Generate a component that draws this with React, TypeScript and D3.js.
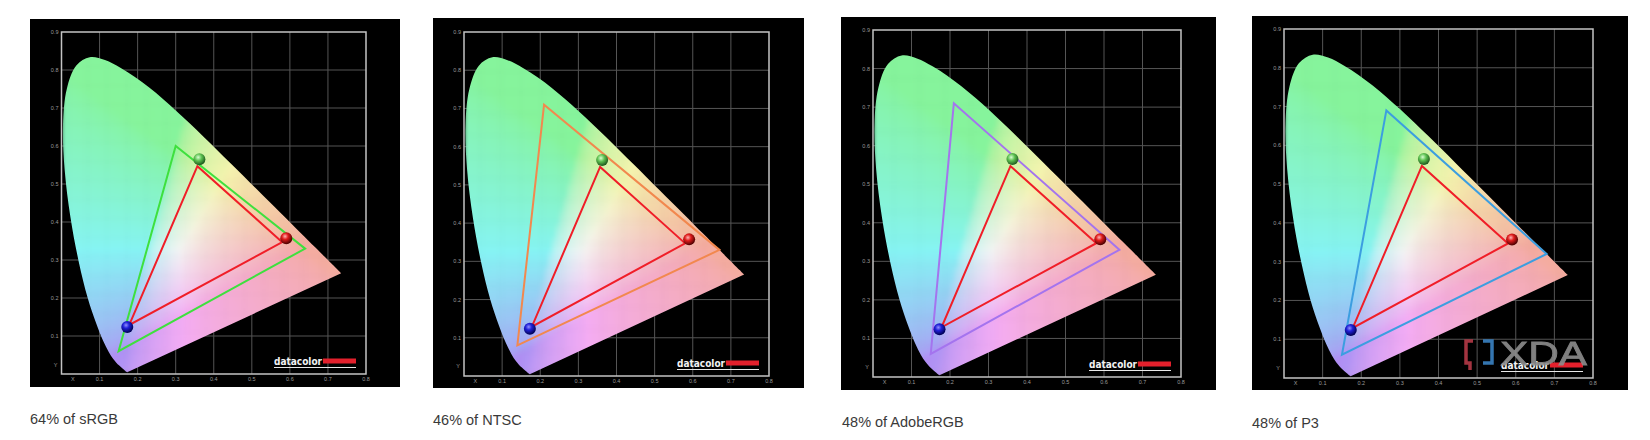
import React, { useMemo } from 'react';
import * as d3 from 'd3';

// CIE 1931 2° spectral locus (380–700 nm, 5 nm steps)
const locusX = [0.1741,0.1740,0.1738,0.1736,0.1733,0.1730,0.1726,0.1721,0.1714,0.1703,0.1689,0.1669,0.1644,0.1611,0.1566,0.1510,0.1440,0.1355,0.1241,0.1096,0.0913,0.0687,0.0454,0.0235,0.0082,0.0039,0.0139,0.0389,0.0743,0.1142,0.1547,0.1929,0.2296,0.2658,0.3016,0.3373,0.3731,0.4087,0.4441,0.4788,0.5125,0.5448,0.5752,0.6029,0.6270,0.6482,0.6658,0.6801,0.6915,0.7006,0.7079,0.7140,0.7190,0.7230,0.7260,0.7283,0.7300,0.7311,0.7320,0.7327,0.7334,0.7340,0.7344,0.7346,0.7347];
const locusY = [0.0050,0.0050,0.0049,0.0049,0.0048,0.0048,0.0048,0.0048,0.0051,0.0058,0.0069,0.0086,0.0109,0.0138,0.0177,0.0227,0.0297,0.0399,0.0578,0.0868,0.1327,0.2007,0.2950,0.4127,0.5384,0.6548,0.7502,0.8120,0.8338,0.8262,0.8059,0.7816,0.7543,0.7243,0.6923,0.6589,0.6245,0.5896,0.5547,0.5202,0.4866,0.4544,0.4242,0.3965,0.3725,0.3514,0.3340,0.3197,0.3083,0.2993,0.2920,0.2859,0.2809,0.2770,0.2740,0.2717,0.2700,0.2689,0.2680,0.2673,0.2666,0.2660,0.2656,0.2654,0.2653];

// Measured display primaries (R, G, B)
const measuredX = [0.580, 0.357, 0.178];
const measuredY = [0.347, 0.547, 0.129];

// Reference gamuts (R, G, B)
const gamutNames = ['sRGB', 'NTSC', 'AdobeRGB', 'P3'];
const coverage = [64, 46, 48, 48];
const gamutX = [[0.64, 0.30, 0.15], [0.67, 0.21, 0.14], [0.64, 0.21, 0.15], [0.68, 0.265, 0.15]];
const gamutY = [[0.33, 0.60, 0.06], [0.33, 0.71, 0.08], [0.33, 0.71, 0.06], [0.32, 0.69, 0.06]];
const gamutColors = ['#3ee03e', '#f2884e', '#a474ee', '#3c9ee0'];

const xTicks = [0.1, 0.2, 0.3, 0.4, 0.5, 0.6, 0.7, 0.8];
const yTicks = [0.1, 0.2, 0.3, 0.4, 0.5, 0.6, 0.7, 0.8, 0.9];

const panels = [
  { bx: 30, by: 19, bw: 370, bh: 368, fl: 61.5, fr: 366, ft: 32, fb: 374, cx: 30, cy: 424 },
  { bx: 433, by: 18, bw: 371, bh: 370, fl: 464, fr: 769, ft: 32, fb: 376, cx: 433, cy: 425 },
  { bx: 841, by: 17, bw: 375, bh: 373, fl: 873, fr: 1181, ft: 30, fb: 377, cx: 842, cy: 427 },
  { bx: 1252, by: 16, bw: 376, bh: 374, fl: 1284, fr: 1593, ft: 29, fb: 378, cx: 1252, cy: 428 },
];

function chromaColor(x: number, y: number): string {
  const yy = Math.max(y, 0.003);
  const X = x / yy, Y = 1, Z = (1 - x - yy) / yy;
  let r = 3.2406 * X - 1.5372 * Y - 0.4986 * Z;
  let g = -0.9689 * X + 1.8758 * Y + 0.0415 * Z;
  let b = 0.0557 * X - 0.2040 * Y + 1.0570 * Z;
  r = Math.max(r, 0); g = Math.max(g, 0); b = Math.max(b, 0);
  const m = Math.max(r, g, b, 1e-6);
  r /= m; g /= m; b /= m;
  const gam = (c: number) => (c <= 0.0031308 ? 12.92 * c : 1.055 * Math.pow(c, 1 / 2.4) - 0.055);
  let R = gam(r), G = gam(g), B = gam(b);
  // pastel tweaks to match the datacolor rendering
  G = Math.max(G, 0.18 * R);
  B = Math.max(B, 0.2 * G);
  R = Math.max(R, 0.35 * B * (1 - G));
  const s = 0.43 - 0.09 * R;
  const W = 0.955;
  const f = (c: number) => (W - s * (1 - c)) * 255;
  return d3.rgb(f(R), f(G), f(B)).formatHex();
}

const STEP = 0.01;

function Panel({ p, i, cells }: any) {
  const sx = d3.scaleLinear().domain([0, 0.8]).range([p.fl, p.fr]);
  const sy = d3.scaleLinear().domain([0, 0.9]).range([p.fb, p.ft]);
  const pts: [number, number][] = locusX.map((x, k) => [x, locusY[k]]);
  const line = d3.line<[number, number]>().x(d => sx(d[0])).y(d => sy(d[1])).curve(d3.curveCatmullRom);
  const locusPath = line(pts) + 'Z';
  const tri = (xs: number[], ys: number[]) => d3.line<number>().x(k => sx(xs[k])).y(k => sy(ys[k]))([0, 1, 2]) + 'Z';
  const cw = sx(STEP) - sx(0);
  const ch = sy(0) - sy(STEP);
  const sphereOff = [[4, -4], [2, -7], [-2, 2]];
  const sphereFill = ['url(#sphR)', 'url(#sphG)', 'url(#sphB)'];
  const logoX = p.fr - 92;
  const logoY = p.fb - 9;
  return (
    <g>
      <defs>
        <clipPath id={`clip${i}`}><path d={locusPath} /></clipPath>
        <filter id={`blur${i}`} x="-5%" y="-5%" width="110%" height="110%">
          <feGaussianBlur stdDeviation="2" />
        </filter>
      </defs>
      <rect x={p.bx} y={p.by} width={p.bw} height={p.bh} fill="#000" />
      {xTicks.slice(0, -1).map(t => (
        <line key={'gx' + t} x1={sx(t)} x2={sx(t)} y1={p.ft} y2={p.fb} stroke="#555" strokeWidth={1} />
      ))}
      {yTicks.slice(0, -1).map(t => (
        <line key={'gy' + t} x1={p.fl} x2={p.fr} y1={sy(t)} y2={sy(t)} stroke="#555" strokeWidth={1} />
      ))}
      <rect x={p.fl} y={p.ft} width={p.fr - p.fl} height={p.fb - p.ft} fill="none" stroke="#c4c4c4" strokeWidth={1.5} />
      <g clipPath={`url(#clip${i})`}>
        <g filter={`url(#blur${i})`}>
          {cells.map((c: any, k: number) => (
            <rect key={k} x={sx(c.x)} y={sy(c.y + STEP)} width={cw + 0.6} height={ch + 0.6} fill={c.color} />
          ))}
        </g>
      </g>
      <path d={tri(gamutX[i], gamutY[i])} fill="none" stroke={gamutColors[i]} strokeWidth={2} strokeLinejoin="miter" />
      <path d={tri(measuredX, measuredY)} fill="none" stroke="#f01e28" strokeWidth={2} strokeLinejoin="miter" />
      {measuredX.map((x, k) => (
        <circle key={'s' + k} cx={sx(x) + sphereOff[k][0]} cy={sy(measuredY[k]) + sphereOff[k][1]} r={6} fill={sphereFill[k]} />
      ))}
      {xTicks.map(t => (
        <text key={'tx' + t} x={sx(t)} y={p.fb + 7} fontSize={5.5} fill="#9a9a9a" textAnchor="middle" fontFamily="Liberation Sans, Arial, sans-serif">{t.toFixed(1)}</text>
      ))}
      <text x={sx(0.03)} y={p.fb + 7} fontSize={5.5} fill="#9a9a9a" textAnchor="middle" fontFamily="Liberation Sans, Arial, sans-serif">X</text>
      {yTicks.map(t => (
        <text key={'ty' + t} x={p.fl - 3} y={sy(t) + 2} fontSize={5.5} fill="#9a9a9a" textAnchor="end" fontFamily="Liberation Sans, Arial, sans-serif">{t.toFixed(1)}</text>
      ))}
      <text x={p.fl - 4} y={sy(0.025) + 2} fontSize={5.5} fill="#9a9a9a" textAnchor="end" fontFamily="Liberation Sans, Arial, sans-serif">Y</text>
      <text x={logoX} y={logoY} fontSize={10.5} fontWeight="bold" fill="#f2f2f2" fontFamily="DejaVu Sans, sans-serif" textLength={48} lengthAdjust="spacingAndGlyphs">datacolor</text>
      <rect x={logoX + 49} y={logoY - 6.5} width={33} height={5} fill="#e3202c" />
      <line x1={logoX} x2={logoX + 82} y1={logoY + 2.5} y2={logoY + 2.5} stroke="#e8e8e8" strokeWidth={1} />
      <text x={p.cx} y={p.cy} fontSize={14.5} fill="#3a3a3a" fontFamily="Liberation Sans, Arial, sans-serif">{`${coverage[i]}% of ${gamutNames[i]}`}</text>
    </g>
  );
}

export default function App() {
  const cells = useMemo(() => {
    const out: { x: number; y: number; color: string }[] = [];
    for (let xi = 0; xi < 76; xi++) {
      for (let yi = 0; yi < 86; yi++) {
        const x = xi * STEP, y = yi * STEP;
        out.push({ x, y, color: chromaColor(x + STEP / 2, y + STEP / 2) });
      }
    }
    return out;
  }, []);
  const p4 = panels[3];
  return (
    <svg width={1650} height={440} style={{ position: 'absolute', left: 0, top: 0, background: '#fff' }}>
      <defs>
        <radialGradient id="sphR" cx="40%" cy="35%" r="65%">
          <stop offset="0" stopColor="#ffb4b4" />
          <stop offset="0.4" stopColor="#e01c1c" />
          <stop offset="1" stopColor="#4a0000" />
        </radialGradient>
        <radialGradient id="sphG" cx="40%" cy="35%" r="65%">
          <stop offset="0" stopColor="#d8ffd0" />
          <stop offset="0.45" stopColor="#5cc050" />
          <stop offset="1" stopColor="#1e5a1e" />
        </radialGradient>
        <radialGradient id="sphB" cx="40%" cy="35%" r="65%">
          <stop offset="0" stopColor="#9090ff" />
          <stop offset="0.4" stopColor="#2020d8" />
          <stop offset="1" stopColor="#000050" />
        </radialGradient>
      </defs>
      <rect x={0} y={0} width={1650} height={440} fill="#fff" />
      {panels.map((p, i) => <Panel key={i} p={p} i={i} cells={cells} />)}
      <g opacity={0.9}>
        <path d={`M${p4.fr - 120},${p4.fb - 37} H${p4.fr - 127} V${p4.fb - 15} H${p4.fr - 123} V${p4.fb - 8}`} fill="none" stroke="#b53a48" strokeWidth={3.5} />
        <path d={`M${p4.fr - 110},${p4.fb - 37} H${p4.fr - 101} V${p4.fb - 15} H${p4.fr - 110}`} fill="none" stroke="#3a82c4" strokeWidth={3.5} />
        <text x={p4.fr - 93} y={p4.fb - 13} fontSize={33} fill="#8e8e8e" stroke="#8e8e8e" strokeWidth={0.8} fontFamily="Liberation Sans, Arial, sans-serif" textLength={87} lengthAdjust="spacingAndGlyphs">XDA</text>
      </g>
    </svg>
  );
}
